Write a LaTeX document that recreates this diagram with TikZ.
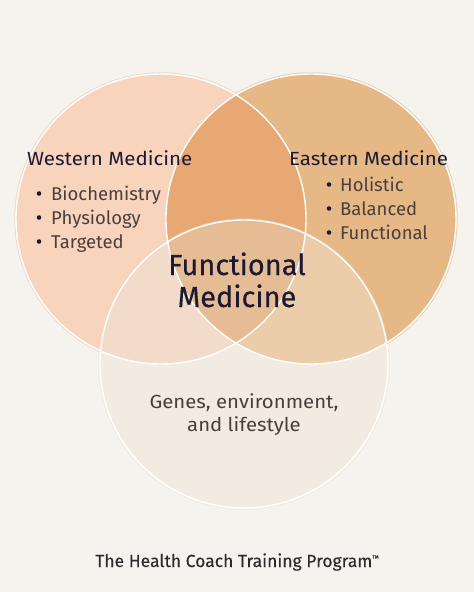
\documentclass[tikz,border=0pt]{standalone}
\usepackage{fontspec}
\setmainfont{Fira Sans}
\newfontfamily\wideff[FakeStretch=1.08]{Fira Sans}
\newfontfamily\lightff[FakeStretch=1.07]{Fira Sans}
\definecolor{bg}{HTML}{F6F3EE}
\definecolor{wfill}{HTML}{F8D4BD}
\definecolor{efill}{HTML}{E5B886}
\definecolor{wefill}{HTML}{E7A873}
\definecolor{bfill}{HTML}{F2EBE2}
\definecolor{bwfill}{HTML}{F2DBC9}
\definecolor{befill}{HTML}{EBCDAA}
\definecolor{bwefill}{HTML}{E5BC93}
\definecolor{navy}{HTML}{1C1A33}
\definecolor{bodytxt}{HTML}{4A3F3C}
\definecolor{foot}{HTML}{2B2B2B}
\tikzset{
  ring/.style={draw=white, line width=1.4pt},
  halo/.style={draw=#1, line width=3.5pt, opacity=0.5},
  head/.style={font=\wideff\fontsize{19}{22}\selectfont, text=navy, inner sep=0pt, anchor=base west},
  item/.style={font=\fontsize{18.5}{22}\selectfont, text=bodytxt, inner sep=0pt, anchor=base west},
  dot/.style={circle, fill=navy, inner sep=0pt, minimum size=4.6pt},
  centre/.style={font=\fontsize{29}{34}\selectfont\addfontfeatures{FakeBold=0.4}, text=navy, inner sep=0pt, anchor=base},
  genes/.style={font=\lightff\fontsize{19}{22}\selectfont, text=bodytxt, inner sep=0pt, anchor=base},
}
\begin{document}
\begin{tikzpicture}[x=1pt,y=-1pt]
\fill[bg] (0,0) rectangle (474,592);
\useasboundingbox (0,0) rectangle (474,592);
\coordinate (W) at (161,219);
\coordinate (E) at (311,219);
\coordinate (B) at (244,364);
% halos
\draw[halo={wfill!80!brown}] (W) circle (145);
\draw[halo={efill!85!brown}] (E) circle (145);
% fills
\fill[wfill] (W) circle (145);
\fill[efill] (E) circle (145);
\begin{scope}
  \clip (W) circle (145);
  \fill[wefill] (E) circle (145);
\end{scope}
\draw[halo={bfill!85!brown}, opacity=0.35] (B) circle (144);
\fill[bfill] (B) circle (144);
\begin{scope}
  \clip (B) circle (144);
  \fill[bwfill] (W) circle (145);
  \fill[befill] (E) circle (145);
  \clip (W) circle (145);
  \fill[bwefill] (E) circle (145);
\end{scope}
% outlines
\draw[ring] (W) circle (145);
\draw[ring] (E) circle (145);
\draw[ring] (B) circle (144);
% Western
\node[head] (wh) at (27,165) {Western Medicine};
\node[item] (w1) at (51,200) {Biochemistry};
\node[item] (w2) at (51,224) {Physiology};
\node[item] (w3) at (51,248) {Targeted};
\node[dot] (wd1) at (39,193.5) {};
\node[dot] (wd2) at (39,217.5) {};
\node[dot] (wd3) at (39,241.5) {};
% Eastern
\node[head] (eh) at (289,165) {Eastern Medicine};
\node[item] (e1) at (340,191) {Holistic};
\node[item] (e2) at (340,215) {Balanced};
\node[item] (e3) at (340,239) {Functional};
\node[dot] (ed1) at (329,184.5) {};
\node[dot] (ed2) at (329,208.5) {};
\node[dot] (ed3) at (329,232.5) {};
% center
\node[centre] (fm1) at (237,275) {Functional};
\node[centre] (fm2) at (237,307) {Medicine};
% bottom
\node[genes] (g1) at (244,408) {Genes, environment,};
\node[genes] (g2) at (244,431) {and lifestyle};
% footer
\node[font=\fontsize{17.5}{20}\selectfont\addfontfeatures{FakeBold=0.2}, text=foot, inner sep=0pt, anchor=base] (ft) at (237,567) {The Health Coach Training Program\raisebox{0.9ex}{\fontsize{5}{6}\selectfont TM}};
\end{tikzpicture}
\end{document}
